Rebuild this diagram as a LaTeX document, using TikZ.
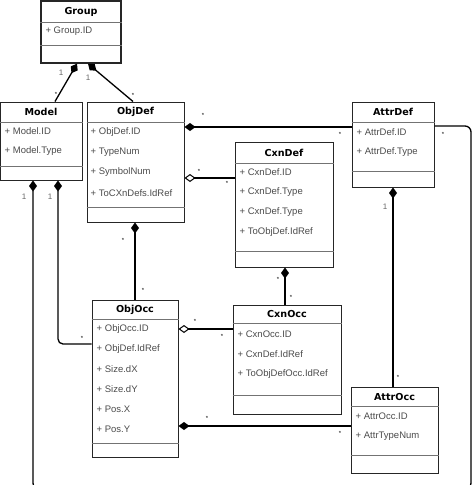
\documentclass[tikz,border=0pt]{standalone}
\usepackage{fontspec}
\setmainfont{Liberation Sans}
\newfontfamily\titlefont{DejaVu Sans}
\usetikzlibrary{positioning,calc,arrows.meta}

\begin{document}
\begin{tikzpicture}[x=1pt,y=-1pt,
  classbox/.style={draw=black!85, line width=1pt, fill=white, inner sep=0pt},
  classtitle/.style={inner sep=0pt, font=\titlefont\bfseries\fontsize{9.6}{11}\selectfont},
  classattr/.style={anchor=west, inner sep=0pt, text=black!70, font=\fontsize{9.5}{11}\selectfont},
  classsep/.style={black!55, line width=0.8pt},
  own/.style={{Diamond[length=11pt,width=8pt]}-, line width=1.3pt},
  agg/.style={{Diamond[open,length=11pt,width=8pt,line width=1pt]}-, line width=1.3pt},
  mult/.style={font=\fontsize{6}{6}\selectfont, inner sep=0pt},
  one/.style={font=\fontsize{8}{9}\selectfont, text=black!60, inner sep=0pt}]
\useasboundingbox (0,0) rectangle (474,485);

% class boxes
\node[classbox, line width=1.3pt, minimum width=80, minimum height=62] (group) at (81,32) {};
\node[classbox, minimum width=82, minimum height=78] (model) at (41,141) {};
\node[classbox, minimum width=97, minimum height=120] (objdef) at (135.5,162) {};
\node[classbox, minimum width=98, minimum height=125] (cxndef) at (284,204.5) {};
\node[classbox, minimum width=82, minimum height=85] (attrdef) at (393,144.5) {};
\node[classbox, minimum width=86, minimum height=157] (objocc) at (135,378.5) {};
\node[classbox, minimum width=108, minimum height=109] (cxnocc) at (287,359.5) {};
\node[classbox, minimum width=87, minimum height=86] (attrocc) at (394.5,430) {};

% compartments
\draw[classsep] (group.west |- 0,22) -- (group.east |- 0,22);
\draw[classsep] (group.west |- 0,45) -- (group.east |- 0,45);
\draw[classsep] (model.west |- 0,122) -- (model.east |- 0,122);
\draw[classsep] (model.west |- 0,166) -- (model.east |- 0,166);
\draw[classsep] (objdef.west |- 0,122) -- (objdef.east |- 0,122);
\draw[classsep] (objdef.west |- 0,207) -- (objdef.east |- 0,207);
\draw[classsep] (cxndef.west |- 0,163) -- (cxndef.east |- 0,163);
\draw[classsep] (cxndef.west |- 0,251) -- (cxndef.east |- 0,251);
\draw[classsep] (attrdef.west |- 0,122) -- (attrdef.east |- 0,122);
\draw[classsep] (attrdef.west |- 0,171) -- (attrdef.east |- 0,171);
\draw[classsep] (objocc.west |- 0,319) -- (objocc.east |- 0,319);
\draw[classsep] (objocc.west |- 0,443) -- (objocc.east |- 0,443);
\draw[classsep] (cxnocc.west |- 0,323) -- (cxnocc.east |- 0,323);
\draw[classsep] (cxnocc.west |- 0,395) -- (cxnocc.east |- 0,395);
\draw[classsep] (attrocc.west |- 0,406) -- (attrocc.east |- 0,406);
\draw[classsep] (attrocc.west |- 0,455) -- (attrocc.east |- 0,455);

% titles
\node[classtitle] (group-t) at (group.north |- 0,12) {Group};
\node[classtitle] (model-t) at (model.north |- 0,112) {Model};
\node[classtitle] (objdef-t) at (objdef.north |- 0,112) {ObjDef};
\node[classtitle] (cxndef-t) at (cxndef.north |- 0,153) {CxnDef};
\node[classtitle] (attrdef-t) at (attrdef.north |- 0,112) {AttrDef};
\node[classtitle] (objocc-t) at (objocc.north |- 0,310) {ObjOcc};
\node[classtitle] (cxnocc-t) at (cxnocc.north |- 0,314) {CxnOcc};
\node[classtitle] (attrocc-t) at (attrocc.north |- 0,397) {AttrOcc};

% attributes
\node[classattr] (group-1) at ($(group.north west)+(5,31)$) {+ Group.ID};
\foreach \t [count=\i] in {Model.ID, Model.Type}
  \node[classattr] (model-\i) at ($(model.north west)+(5,10+20*\i)$) {+ \t};
\foreach \t [count=\i] in {ObjDef.ID, TypeNum, SymbolNum, ToCXnDefs.IdRef}
  \node[classattr] (objdef-\i) at ($(objdef.north west)+(4,10+20.3*\i)$) {+ \t};
\foreach \t [count=\i] in {CxnDef.ID, CxnDef.Type, CxnDef.Type, ToObjDef.IdRef}
  \node[classattr] (cxndef-\i) at ($(cxndef.north west)+(5,11+20*\i)$) {+ \t};
\foreach \t [count=\i] in {AttrDef.ID, AttrDef.Type}
  \node[classattr] (attrdef-\i) at ($(attrdef.north west)+(5,10+20.5*\i)$) {+ \t};
\foreach \t [count=\i] in {ObjOcc.ID, ObjDef.IdRef, Size.dX, Size.dY, Pos.X, Pos.Y}
  \node[classattr] (objocc-\i) at ($(objocc.north west)+(5,10+20*\i)$) {+ \t};
\foreach \t [count=\i] in {CxnOcc.ID, CxnDef.IdRef, ToObjDefOcc.IdRef}
  \node[classattr] (cxnocc-\i) at ($(cxnocc.north west)+(5,9+20.3*\i)$) {+ \t};
\foreach \t [count=\i] in {AttrOcc.ID, AttrTypeNum}
  \node[classattr] (attrocc-\i) at ($(attrocc.north west)+(5,10+20*\i)$) {+ \t};

% associations
\draw[own] (group.south -| 77,0) -- (model.north -| 55,0);
\draw[own] (group.south -| 88,0) -- (objdef.north -| 133,0);
\draw[own] (objdef.east |- 0,127) -- (attrdef.west |- 0,127);
\draw[own, rounded corners=6] (model.south -| 33,0) -- (33,489) -- (471,489) -- (471,126)
  -- (attrdef.east |- 0,126);
\draw[own, rounded corners=5] (model.south -| 58,0) -- (58,344) -- (objocc.west |- 0,344);
\draw[own] (objdef.south -| 135,0) -- (objocc.north -| 135,0);
\draw[agg] (objdef.east |- 0,178) -- (cxndef.west |- 0,178);
\draw[own] (cxndef.south -| 285,0) -- (cxnocc.north -| 285,0);
\draw[agg] (objocc.east |- 0,329) -- (cxnocc.west |- 0,329);
\draw[own] (objocc.east |- 0,426) -- (attrocc.west |- 0,426);
\draw[own] (attrdef.south -| 393,0) -- (attrocc.north -| 393,0);

% multiplicities
\node[one] (m1) at (61,73) {1};
\node[mult] (m2) at (56,94) {*};
\node[one] (m3) at (88,78) {1};
\node[mult] (m4) at (133,95) {*};
\node[mult] (m5) at (203,115) {*};
\node[mult] (m6) at (340,134) {*};
\node[one] (m7) at (24,197) {1};
\node[mult] (m8) at (443,134) {*};
\node[one] (m9) at (50,197) {1};
\node[mult] (m10) at (82,338) {*};
\node[mult] (m11) at (123,240) {*};
\node[mult] (m12) at (143,290) {*};
\node[mult] (m13) at (199,171) {*};
\node[mult] (m14) at (227,183) {*};
\node[mult] (m15) at (278,279) {*};
\node[mult] (m16) at (291,297) {*};
\node[mult] (m17) at (195,321) {*};
\node[mult] (m18) at (222,336) {*};
\node[mult] (m19) at (207,418) {*};
\node[mult] (m20) at (340,433) {*};
\node[one] (m21) at (385,207) {1};
\node[mult] (m22) at (398,377) {*};
\end{tikzpicture}
\end{document}
